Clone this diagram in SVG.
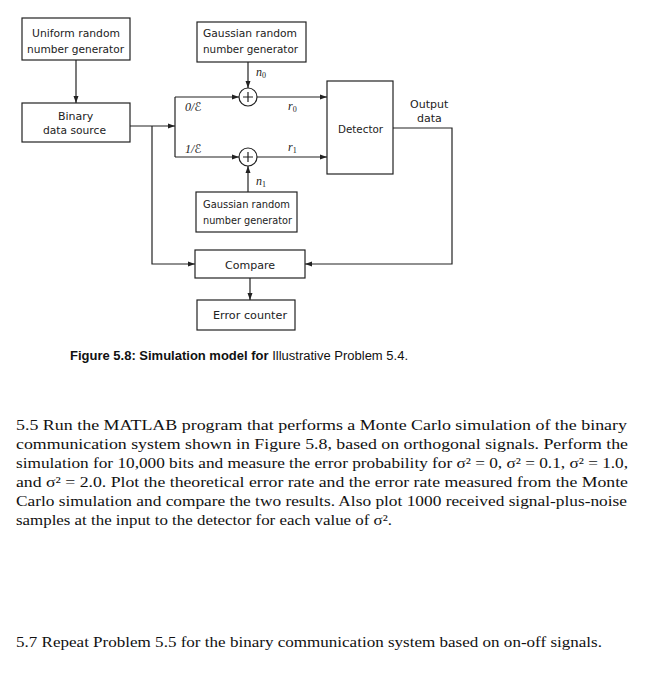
<svg xmlns="http://www.w3.org/2000/svg" width="655" height="675" viewBox="0 0 655 675">
<style>
.box{fill:#fff;stroke:#222;stroke-width:1.2}
.ln{fill:none;stroke:#222;stroke-width:1.2}
.lbl{font-family:"DejaVu Sans",sans-serif;font-size:11px;fill:#222}
.sym{font-family:"Liberation Serif",serif;font-style:italic;font-size:12px;fill:#222}
.scr{font-family:"DejaVu Sans","Noto Sans",sans-serif;font-style:normal;font-size:12px}
.sub{font-size:8px;font-style:normal}
.para{font-family:"Liberation Serif",serif;font-size:14.5px;fill:#111}
.cap{font-family:"Liberation Sans",sans-serif;font-size:12px;fill:#111}
</style>
<defs>
<marker id="ah" markerWidth="7" markerHeight="6" refX="7" refY="3" orient="auto" markerUnits="userSpaceOnUse">
<path d="M0,0.5 L7,3 L0,5.5 Z" fill="#222"/>
</marker>
</defs>
<rect width="655" height="675" fill="#fff"/>

<g id="connectors">
<path class="ln" d="M76,60 V103" marker-end="url(#ah)"/>
<path class="ln" d="M130,126 H175" marker-end="url(#ah)"/>
<path class="ln" d="M175,97 V157"/>
<path class="ln" d="M175,97 H239" marker-end="url(#ah)"/>
<path class="ln" d="M175,157 H239" marker-end="url(#ah)"/>
<path class="ln" d="M248,62 V88" marker-end="url(#ah)"/>
<path class="ln" d="M248,192 V166" marker-end="url(#ah)"/>
<path class="ln" d="M257,97 H327" marker-end="url(#ah)"/>
<path class="ln" d="M257,157 H327" marker-end="url(#ah)"/>
<path class="ln" d="M152,126 V264 H195" marker-end="url(#ah)"/>
<path class="ln" d="M393,128 H452 V264 H305" marker-end="url(#ah)"/>
<path class="ln" d="M250,278 V300" marker-end="url(#ah)"/>
<text class="sym" x="185" y="111">0/<tspan class="scr">ℰ</tspan></text>
<text class="sym" x="185" y="153">1/<tspan class="scr">ℰ</tspan></text>
<text class="sym" x="288" y="110">r<tspan class="sub" dy="2">0</tspan></text>
<text class="sym" x="288" y="151">r<tspan class="sub" dy="2">1</tspan></text>
<text class="sym" x="256" y="76">n<tspan class="sub" dy="2">0</tspan></text>
<text class="sym" x="256" y="185">n<tspan class="sub" dy="2">1</tspan></text>
<text class="lbl" x="410" y="108">Output</text>
<text class="lbl" x="417" y="122">data</text>
</g>

<g id="uniform">
<rect class="box" x="22" y="18" width="108" height="42"/>
<text class="lbl" x="32" y="37" textLength="88" lengthAdjust="spacingAndGlyphs">Uniform random</text>
<text class="lbl" x="27" y="53" textLength="97" lengthAdjust="spacingAndGlyphs">number generator</text>
</g>

<g id="binary">
<rect class="box" x="22" y="103" width="108" height="39"/>
<text class="lbl" x="58" y="120">Binary</text>
<text class="lbl" x="43" y="134" textLength="63" lengthAdjust="spacingAndGlyphs">data source</text>
</g>

<g id="gauss0">
<rect class="box" x="197" y="22" width="109" height="40"/>
<text class="lbl" x="203" y="37" textLength="94" lengthAdjust="spacingAndGlyphs">Gaussian random</text>
<text class="lbl" x="203" y="53" textLength="95" lengthAdjust="spacingAndGlyphs">number generator</text>
</g>

<g id="sum0">
<circle class="box" cx="248" cy="97" r="9"/>
<path class="ln" d="M243,97 H253 M248,92 V102" stroke-width="0.9"/>
</g>

<g id="sum1">
<circle class="box" cx="248" cy="157" r="9"/>
<path class="ln" d="M243,157 H253 M248,152 V162" stroke-width="0.9"/>
</g>

<g id="gauss1">
<rect class="box" x="196" y="192" width="101" height="40"/>
<text class="lbl" x="203" y="208" textLength="87" lengthAdjust="spacingAndGlyphs">Gaussian random</text>
<text class="lbl" x="203" y="224" textLength="89" lengthAdjust="spacingAndGlyphs">number generator</text>
</g>

<g id="detector">
<rect class="box" x="327" y="81" width="66" height="93"/>
<text class="lbl" x="338" y="133" textLength="45" lengthAdjust="spacingAndGlyphs">Detector</text>
</g>

<g id="compare">
<rect class="box" x="195" y="250" width="110" height="28"/>
<text class="lbl" x="225" y="269" textLength="50" lengthAdjust="spacingAndGlyphs">Compare</text>
</g>

<g id="errcount">
<rect class="box" x="197" y="300" width="98" height="30"/>
<text class="lbl" x="213" y="319" textLength="74" lengthAdjust="spacingAndGlyphs">Error counter</text>
</g>

<text class="cap" x="70" y="360" textLength="338" lengthAdjust="spacingAndGlyphs"><tspan font-weight="bold">Figure 5.8: Simulation model for</tspan> Illustrative Problem 5.4.</text>

<g id="text55">
<text class="para" x="16" y="430" textLength="611" lengthAdjust="spacingAndGlyphs">5.5 Run the MATLAB program that performs a Monte Carlo simulation of the binary</text>
<text class="para" x="16" y="449" textLength="612" lengthAdjust="spacingAndGlyphs">communication system shown in Figure 5.8, based on orthogonal signals.  Perform the</text>
<text class="para" x="16" y="468" textLength="612" lengthAdjust="spacingAndGlyphs">simulation for 10,000 bits and measure the error probability for σ² = 0, σ² = 0.1, σ² = 1.0,</text>
<text class="para" x="16" y="487" textLength="612" lengthAdjust="spacingAndGlyphs">and σ² = 2.0.  Plot the theoretical error rate and the error rate measured from the Monte</text>
<text class="para" x="16" y="506" textLength="611" lengthAdjust="spacingAndGlyphs">Carlo simulation and compare the two results.  Also plot 1000 received signal-plus-noise</text>
<text class="para" x="16" y="525" textLength="376" lengthAdjust="spacingAndGlyphs">samples at the input to the detector for each value of σ².</text>
</g>

<g id="text57">
<text class="para" x="16" y="647" textLength="586" lengthAdjust="spacingAndGlyphs">5.7  Repeat Problem 5.5 for the binary communication system based on on-off signals.</text>
</g>
</svg>
